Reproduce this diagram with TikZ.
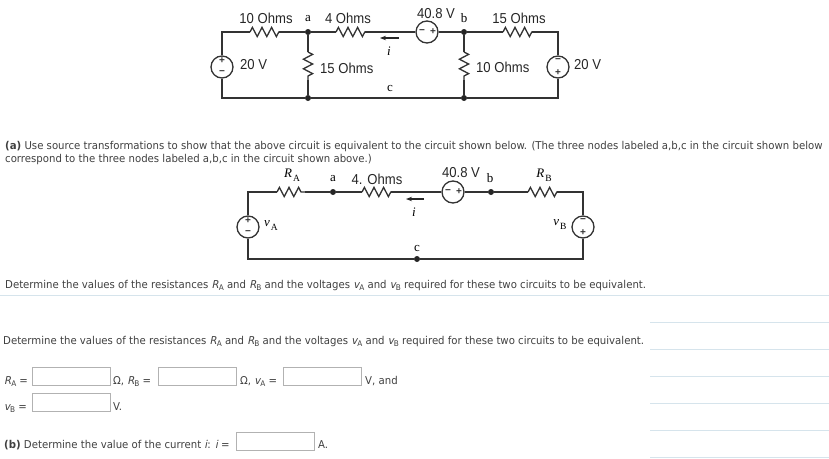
\documentclass[tikz,border=0pt]{standalone}
\usepackage{fontspec}
\setmainfont{Liberation Sans}
\newfontfamily\ofont[FakeStretch=0.91]{Liberation Sans}
\newfontfamily\vfont[FakeStretch=0.94]{DejaVu Sans}
\newfontfamily\sfont{Liberation Serif}
\usetikzlibrary{decorations.pathmorphing,arrows.meta}
\definecolor{rulecol}{RGB}{214,228,236}
\tikzset{
  x=1pt,y=-1pt,
  wire/.style={draw=black!80,line width=1.3pt},
  res/.style={wire,decorate,decoration={zigzag,segment length=9.6pt,amplitude=4.6pt}},
  src/.style={circle,draw=black!80,line width=1.3pt,minimum size=22pt,inner sep=0pt,fill=white},
  sign/.style={font=\fontsize{10}{10}\selectfont\bfseries,inner sep=0pt,text=black!80},
  jn/.style={circle,fill=black!85,minimum size=6pt,inner sep=0pt},
  ohm/.style={font=\fontsize{14.4}{15}\ofont,inner sep=0pt,text=black!85},
  ltr/.style={font=\fontsize{13}{13}\sfont,inner sep=0pt,text=black},
  qt/.style={font=\fontsize{10.8}{12}\vfont,inner sep=0pt,anchor=base west,text=black!75},
  ansbox/.style={draw=black!30,fill=white,line width=0.8pt,inner sep=0pt,anchor=north west,minimum height=18pt},
  rule/.style={draw=rulecol,line width=0.8pt},
  arr/.style={draw=black!85,line width=1.1pt,-{Stealth[length=6pt,width=4.5pt]}}
}
\newcommand{\qi}[1]{{\fontspec{DejaVu Sans}[FakeSlant=0.2,FakeStretch=0.94]#1}}
\newcommand{\sbi}[2]{\qi{#1}\raisebox{-2pt}{\fontsize{7.8}{8}\selectfont\vfont #2}}
\newcommand{\ser}[2]{{\sfont\itshape #1}\kern1pt\raisebox{-4pt}{\fontsize{9.5}{9}\sfont #2}}
\begin{document}
\begin{tikzpicture}
\useasboundingbox (0,0) rectangle (829,458);
% ---------- upper circuit
\node[src] (S1) at (222,67) {};
\node[sign] at (222,61) {+}; \node[sign] at (222,73) {−};
\node[src] (S2) at (558,67) {};
\node[sign] at (558,61) {−}; \node[sign] at (558,73) {+};
\node[src] (S3) at (427,32) {};
\node[sign] at (422,32) {−}; \node[sign] at (433,32) {+};
\node[jn] (a) at (308,32) {}; \node[jn] (b) at (464,32) {};
\node[jn] (c1) at (308,98) {}; \node[jn] (c2) at (464,98) {};
\coordinate (TL) at (222,32); \coordinate (BL) at (222,98);
\coordinate (TR) at (558,32); \coordinate (BR) at (558,98);
\coordinate (R1a) at (250,32); \coordinate (R1b) at (279,32);
\coordinate (R2a) at (336,32); \coordinate (R2b) at (365,32);
\coordinate (R3a) at (503,32); \coordinate (R3b) at (532,32);
\coordinate (R4a) at (308,52); \coordinate (R4b) at (308,80);
\coordinate (R5a) at (464,52); \coordinate (R5b) at (464,80);
\draw[wire] (S1) -- (TL) -- (R1a);
\draw[res] (R1a) -- (R1b);
\draw[wire] (R1b) -- (a) -- (R2a);
\draw[res] (R2a) -- (R2b);
\draw[wire] (R2b) -- (S3) -- (b) -- (R3a);
\draw[res] (R3a) -- (R3b);
\draw[wire] (R3b) -- (TR) -- (S2) -- (BR) -- (c2) -- (c1) -- (BL) -- (S1);
\draw[wire] (a) -- (R4a); \draw[res] (R4a) -- (R4b); \draw[wire] (R4b) -- (c1);
\draw[wire] (b) -- (R5a); \draw[res] (R5a) -- (R5b); \draw[wire] (R5b) -- (c2);
\coordinate (A1s) at (399,38); \coordinate (A1e) at (380,38);
\draw[arr] (A1s) -- (A1e);
\node[ohm] (t1) at (266,18) {10 Ohms};
\node[ltr] (t2) at (308,19) {a};
\node[ohm] (t3) at (348,18) {4 Ohms};
\node[ohm] (t4) at (436,14) {40.8 V};
\node[ltr] (t5) at (464,18) {b};
\node[ohm] (t6) at (519,18) {15 Ohms};
\node[ohm,anchor=west] (t7) at (240,65) {20 V};
\node[ohm,anchor=west] (t8) at (320,68) {15 Ohms};
\node[ohm,anchor=west] (t9) at (476,67) {10 Ohms};
\node[ohm,anchor=west] (t10) at (574,65) {20 V};
\node[ltr] (t11) at (390,88) {c};
\node[ltr] (t12) at (389,51) {\itshape i};
% ---------- question text
\node[qt] (q1) at (5,149) {\textbf{(a)} Use source transformations to show that the above circuit is equivalent to the circuit shown below. (The three nodes labeled a,b,c in the circuit shown below};
\node[qt] (q2) at (5,162) {correspond to the three nodes labeled a,b,c in the circuit shown above.)};
% ---------- lower circuit
\node[src] (S4) at (248,227) {};
\node[sign] at (248,221) {+}; \node[sign] at (248,233) {−};
\node[src] (S5) at (583,227) {};
\node[sign] at (583,221) {−}; \node[sign] at (583,233) {+};
\node[src] (S6) at (453,192) {};
\node[sign] at (448,192) {−}; \node[sign] at (459,192) {+};
\node[jn] (a2) at (333,192) {}; \node[jn] (b2) at (491,192) {};
\node[jn] (c3) at (417,259) {};
\coordinate (TL2) at (248,192); \coordinate (BL2) at (248,259);
\coordinate (TR2) at (583,192); \coordinate (BR2) at (583,259);
\coordinate (R6a) at (277,192); \coordinate (R6b) at (305,192);
\coordinate (R7a) at (362,192); \coordinate (R7b) at (391,192);
\coordinate (R8a) at (528,192); \coordinate (R8b) at (557,192);
\draw[wire] (S4) -- (TL2) -- (R6a);
\draw[res] (R6a) -- (R6b);
\draw[wire] (R6b) -- (a2) -- (R7a);
\draw[res] (R7a) -- (R7b);
\draw[wire] (R7b) -- (S6) -- (b2) -- (R8a);
\draw[res] (R8a) -- (R8b);
\draw[wire] (R8b) -- (TR2) -- (S5) -- (BR2) -- (c3) -- (BL2) -- (S4);
\coordinate (A2s) at (424,199); \coordinate (A2e) at (406,199);
\draw[arr] (A2s) -- (A2e);
\node[ltr,font=\fontsize{13}{13}\selectfont] (u1) at (292,175) {\ser{R}{A}};
\node[ltr] (u2) at (333,179) {a};
\node[ohm] (u3) at (377,179) {4. Ohms};
\node[ohm] (u4) at (461,173) {40.8 V};
\node[ltr] (u5) at (490,178) {b};
\node[ltr,font=\fontsize{13}{13}\selectfont] (u6) at (544,175) {\ser{R}{B}};
\node[ltr,font=\fontsize{13}{13}\selectfont] (u7) at (271,226) {\ser{v}{A}};
\node[ltr,font=\fontsize{13}{13}\selectfont] (u8) at (560,225) {\ser{v}{B}};
\node[ltr] (u9) at (417,248) {c};
\node[ltr] (u10) at (414,212) {\itshape i};
% ---------- rules
\coordinate (L0a) at (0,295); \coordinate (L0b) at (829,295);
\draw[rule] (L0a) -- (L0b);
\foreach \yy in {322,349,376,403,430,457} {
  \draw[rule] (650,\yy) -- (829,\yy);
}
% ---------- questions
\node[qt] (q3) at (5,288) {Determine the values of the resistances \sbi{R}{A} and \sbi{R}{B} and the voltages \sbi{v}{A} and \sbi{v}{B} required for these two circuits to be equivalent.};
\node[qt] (q4) at (3,344) {Determine the values of the resistances \sbi{R}{A} and \sbi{R}{B} and the voltages \sbi{v}{A} and \sbi{v}{B} required for these two circuits to be equivalent.};
\node[qt] (q5) at (4,384) {\sbi{R}{A} =};
\node[ansbox,minimum width=78pt] (b1) at (32,367) {};
\node[qt] (q6) at (113,384) {Ω, \sbi{R}{B} =};
\node[ansbox,minimum width=78pt] (b2x) at (158,367) {};
\node[qt] (q7) at (240,384) {Ω, \sbi{v}{A} =};
\node[ansbox,minimum width=78pt] (b3) at (283,367) {};
\node[qt] (q8) at (365,384) {V, and};
\node[qt] (q9) at (4,410) {\sbi{v}{B} =};
\node[ansbox,minimum width=78pt] (b4) at (32,393) {};
\node[qt] (q10) at (113,410) {V.};
\node[qt] (q11) at (4,448) {\textbf{(b)} Determine the value of the current \qi{i}: \qi{i} =};
\node[ansbox,minimum width=78pt] (b5) at (236,432) {};
\node[qt] (q12) at (318,448) {A.};
\end{tikzpicture}
\end{document}
